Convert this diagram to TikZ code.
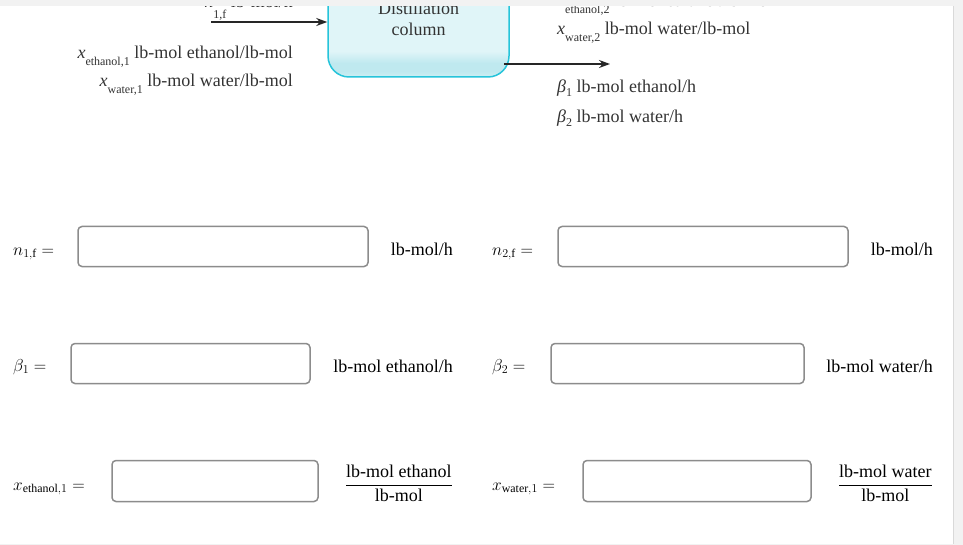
\documentclass[tikz,border=0pt]{standalone}
\usepackage{amsmath}
\usepackage{fontspec}
\setmainfont{Liberation Serif}
\usetikzlibrary{arrows.meta, positioning, calc}

\definecolor{tankline}{HTML}{26C4DA}
\definecolor{tanklight}{HTML}{E0F5F8}
\definecolor{tankdark}{HTML}{BFE9EF}
\definecolor{tankedge}{HTML}{CDEFF3}
\definecolor{boxgray}{HTML}{8C8C8C}
\definecolor{pagegray}{HTML}{F2F2F2}
\definecolor{pageline}{HTML}{D9D9D9}
\definecolor{inkgray}{HTML}{333333}

\pgfdeclareverticalshading{tank shade}{100bp}{color(0bp)=(tankedge); color(25bp)=(tankedge);
  color(27.5bp)=(tankdark); color(31bp)=(tankdark); color(36bp)=(tanklight); color(100bp)=(tanklight)}

\newcommand{\lowsub}[2][7pt]{\raisebox{-#1}{\fontsize{12}{12}\selectfont #2}}

\begin{document}
\begin{tikzpicture}[x=1pt, y=-1pt, >={Stealth[length=11pt,width=8pt]},
tank/.style={
draw=tankline,
line width=1.5pt,
rounded corners=21pt,
shading=tank shade,
minimum width=181pt,
minimum height=117pt,
align=center,
text=inkgray,
font=\fontsize{18}{21}\selectfont
},
flow label/.style={
text=inkgray,
inner sep=0pt,
font=\fontsize{18}{21}\selectfont
},
answer box/.style={
draw=boxgray,
line width=1.5pt,
rounded corners=4pt,
minimum height=40pt
},
var label/.style={anchor=base west, inner sep=0pt, font=\fontsize{17}{20}\selectfont},
unit label/.style={anchor=base east, inner sep=0pt, font=\fontsize{18}{21}\selectfont}
]

\useasboundingbox (0,0) rectangle (963,545);
\fill[white] (0,0) rectangle (963,545);

\node[tank] (col) at (418.5,18.5) {Distillation\\column};

\coordinate (feed) at (211,22);
\coordinate (prod) at (610,64);
\draw[->, line width=1.3pt, black!85] (feed) -- (feed -| col.west);
\draw[->, line width=1.3pt, black!85] ($(col.east |- prod)+(-6,0)$) -- (prod);

\node[flow label, anchor=base east] (n1f) at (293,8) {{\itshape n}\lowsub[11pt]{1,f} lb-mol/h};
\node[flow label, anchor=base east] (xeth1) at (293,59) {{\itshape x}\lowsub{ethanol,1} lb-mol ethanol/lb-mol};
\node[flow label, anchor=base east] (xw1) at (293,87) {{\itshape x}\lowsub{water,1} lb-mol water/lb-mol};

\node[flow label, anchor=base west] (xeth2) at (557,7) {{\itshape x}\lowsub{ethanol,2} lb-mol ethanol/lb-mol};
\node[flow label, anchor=base west] (xw2) at (557,35) {{\itshape x}\lowsub{water,2} lb-mol water/lb-mol};
\node[flow label, anchor=base west] (beta1) at (557,93) {{\itshape β}\lowsub[4pt]{1} lb-mol ethanol/h};
\node[flow label, anchor=base west] (beta2) at (557,123) {{\itshape β}\lowsub[4pt]{2} lb-mol water/h};

\node[answer box, minimum width=290pt] (box n1) at (223,246.5) {};
\node[answer box, minimum width=290pt] (box n2) at (703,246.5) {};
\node[answer box, minimum width=239pt] (box b1) at (190.5,363.5) {};
\node[answer box, minimum width=253pt] (box b2) at (677.5,363.5) {};
\node[answer box, minimum width=206pt, minimum height=41pt] (box x1) at (215,481) {};
\node[answer box, minimum width=228pt, minimum height=41pt] (box x2) at (697,481) {};

\node[var label] (lab n1) at (13,255) {$n_{1,\mathrm{f}} =$};
\node[var label] (lab n2) at (492,255) {$n_{2,\mathrm{f}} =$};
\node[var label] (lab b1) at (13,371) {$\beta_1 =$};
\node[var label] (lab b2) at (492,371) {$\beta_2 =$};
\node[var label] (lab x1) at (13,490) {$x_{\mathrm{ethanol},1} =$};
\node[var label] (lab x2) at (492,490) {$x_{\mathrm{water},1} =$};

\node[unit label] (unit n1) at (453,255) {lb-mol/h};
\node[unit label] (unit n2) at (933,255) {lb-mol/h};
\node[unit label] (unit b1) at (453,372) {lb-mol ethanol/h};
\node[unit label] (unit b2) at (933,372) {lb-mol water/h};
\node[unit label] (unit x1) at (453,489.5) {$\dfrac{\text{lb-mol ethanol}}{\text{lb-mol}}$};
\node[unit label] (unit x2) at (933,489.5) {$\dfrac{\text{lb-mol water}}{\text{lb-mol}}$};

\fill[pagegray] (0,0) rectangle (963,6);
\fill[pagegray] (953,6) rectangle (963,545);
\draw[pageline] (953.5,6) -- (953.5,545);
\fill[pagegray] (0,544) rectangle (963,545);

\end{tikzpicture}
\end{document}
